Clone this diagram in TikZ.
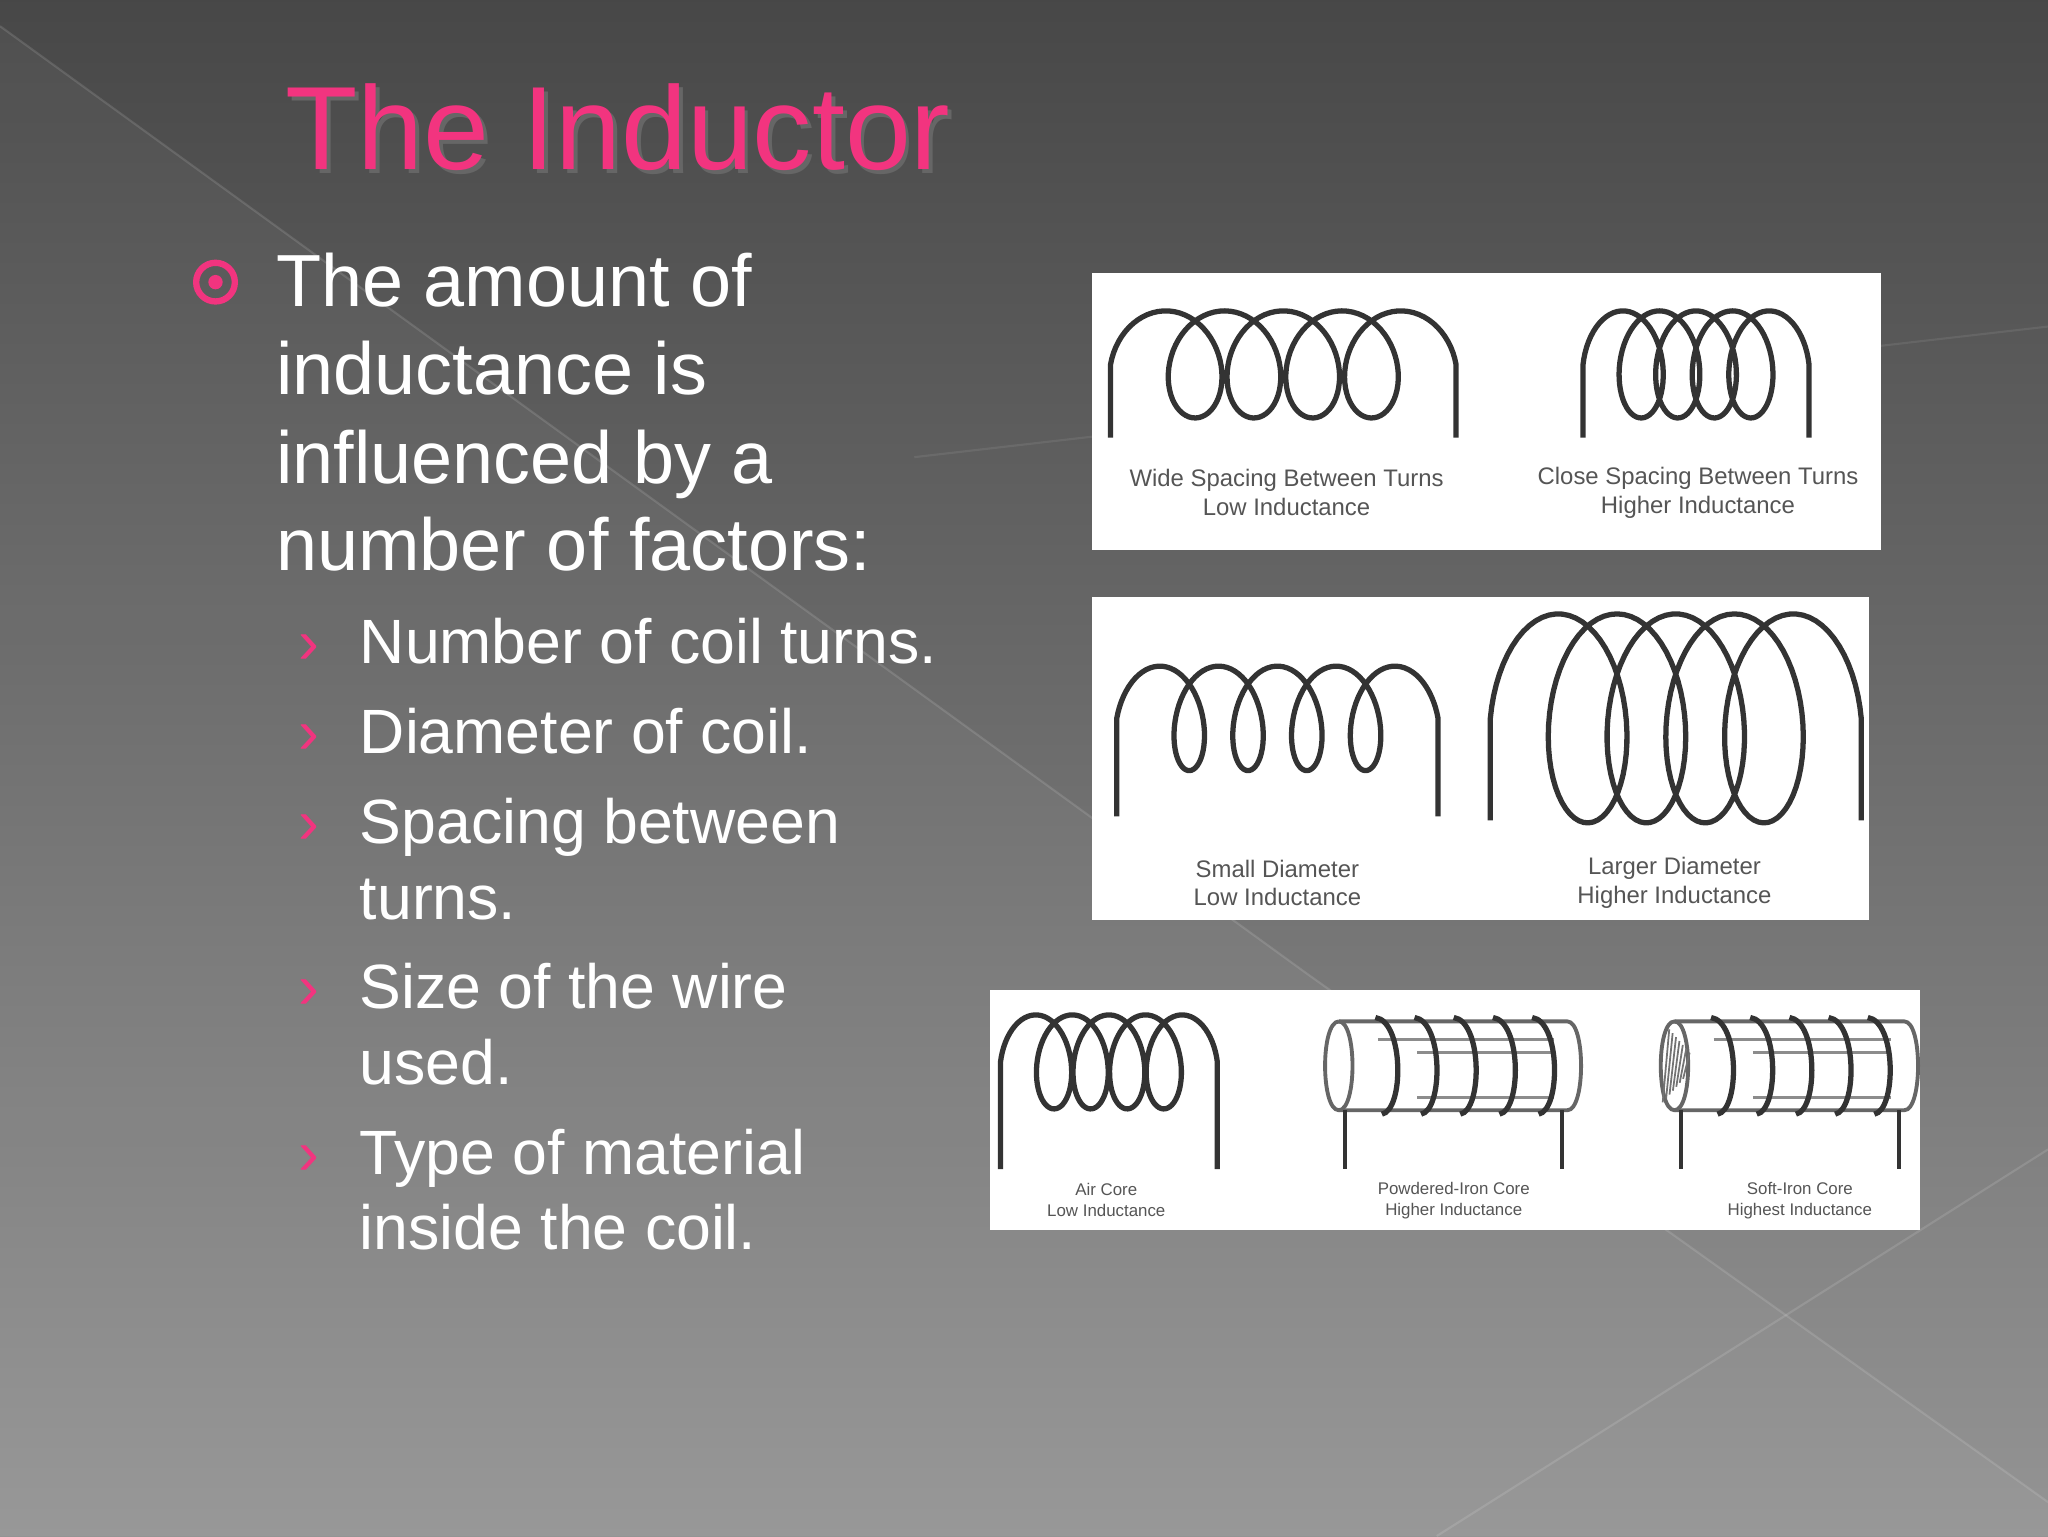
\documentclass[tikz,border=0pt]{standalone}
\usepackage{fontspec}
\setmainfont{Liberation Sans}
\definecolor{pinkc}{HTML}{F2347F}
\definecolor{labc}{HTML}{555555}
\tikzset{wire/.style={line width=1.5pt,black!80},
 lead/.style={line width=1.1pt,black!80},
 lab/.style={font=\fontsize{6.8}{8.2}\selectfont,text=labc,align=center},
 tlab/.style={font=\fontsize{4.8}{6}\selectfont,text=labc,align=center},
 mainT/.style={font=\fontsize{21}{25}\selectfont,text=white,anchor=base west,inner sep=0pt},
 subT/.style={font=\fontsize{17.8}{21}\selectfont,text=white,anchor=base west,inner sep=0pt},
 arr/.style={font=\fontsize{17.8}{21}\selectfont,text=pinkc,anchor=base west,inner sep=0pt}}
% x0 p rx yc ry n leadbottom
\newcommand{\mycoil}[7]{%
 \pgfmathsetmacro{\cxa}{#1-#2/4-#3}%
 \pgfmathsetmacro{\cxb}{#1+#2*#6+#2/4+#3}%
 \pgfmathsetmacro{\cte}{360*#6+90}%
 \draw[wire,line join=round] (\cxa,#7) -- (\cxa,#4) -- plot[domain=-90:\cte,samples=260,variable=\t] ({#1+#2*(\t/360)+#3*sin(\t)},{#4-#5*cos(\t)}) -- (\cxb,#7);}
% cored coil: xl xr ytop ybot hatch
\newcommand{\mycored}[5]{%
 \draw[lead,black!60,fill=white] (#1,#3) -- (#2,#3) .. controls (#2+14,#3) and (#2+14,#4) .. (#2,#4) -- (#1,#4) .. controls (#1-14,#4) and (#1-14,#3) .. (#1,#3);
 \draw[lead,black!60] (#1,#3) .. controls (#1+14,#3) and (#1+14,#4) .. (#1,#4);
 \ifnum#5=1 \foreach \k in {0,...,6}{\draw[black!55,line width=0.5pt] (#1-9+\k*2.6,#4-6-\k*3) -- (#1-4+\k*2.6,#3+6+\k*3);}\fi
 \draw[black!45,line width=0.8pt] (#1+30,#3+14) -- (#2-10,#3+14) (#1+60,#3+24) -- (#2-10,#3+24) (#1+60,#4-10)--(#2-10,#4-10);
 \foreach \k in {0,...,4}{\pgfmathsetmacro{\xk}{#1+28+\k*30}
   \draw[wire] (\xk,#3-3) .. controls (\xk+22,#3) and (\xk+22,#4) .. (\xk+5,#4+3);}
 \draw[lead] (#1+5,#4) -- (#1+5,895) (#2-4,#4) -- (#2-4,895);}
\begin{document}
\begin{tikzpicture}[x=0.1306mm,y=-0.1306mm]
\shade[top color=black!72,bottom color=black!42] (0,0) rectangle (1568,1176);
\useasboundingbox (0,0) rectangle (1568,1176);
\fill[white,opacity=0.04] (0,20) -- (1000,745) -- (1568,1150) -- (1568,1176) -- (0,1176) -- cycle;
\draw[white,opacity=0.12,line width=0.6pt] (0,20) -- (1000,745) -- (1568,1150);
\draw[white,opacity=0.12,line width=0.6pt] (1568,880) -- (1100,1176);
\draw[white,opacity=0.08,line width=0.6pt] (700,350) -- (1568,250);
% title
\node[font=\fontsize{33.7}{40}\selectfont,text=black!60,anchor=base west,inner sep=0pt] at (221,133) {The Inductor};
\node[font=\fontsize{33.7}{40}\selectfont,text=pinkc,anchor=base west,inner sep=0pt] (title) at (218,130) {The Inductor};
% bullets
\node[draw=pinkc,line width=1.8pt,circle,minimum size=11pt,inner sep=0pt] (bul) at (165,216) {};
\fill[pinkc] (bul.center) circle (5.5);
\node[mainT] (m1) at (211,235) {The amount of};
\node[mainT] (m2) at (211,302) {inductance is};
\node[mainT] (m3) at (211,370) {influenced by a};
\node[mainT] (m4) at (211,437) {number of factors:};
\foreach \yy in {508,577,646,772,899}{\node[arr] at (228,\yy) {›};}
\node[subT] (s1) at (275,508) {Number of coil turns.};
\node[subT] (s2) at (275,577) {Diameter of coil.};
\node[subT] (s3) at (275,646) {Spacing between};
\node[subT] (s3b) at (275,704) {turns.};
\node[subT] (s4) at (275,772) {Size of the wire};
\node[subT] (s4b) at (275,830) {used.};
\node[subT] (s5) at (275,899) {Type of material};
\node[subT] (s5b) at (275,957) {inside the coil.};
% boxes
\fill[white] (836,209) rectangle (1440,421);
\fill[white] (836,457) rectangle (1431,704);
\fill[white] (758,758) rectangle (1470,942);
% box1
\mycoil{892.5}{45}{31}{279}{41}{4}{335}
\mycoil{1242.5}{28}{23.5}{279}{41}{4}{335}
\node[lab] (l1) at (985,377) {Wide Spacing Between Turns\\Low Inductance};
\node[lab] (l2) at (1300,377) {Close Spacing Between Turns\\Higher Inductance};
% box2
\mycoil{888}{45}{21.75}{550}{40}{4}{625}
\mycoil{1193}{45}{40.75}{550}{80}{4}{628}
\node[lab] (l3) at (978,676) {Small Diameter\\Low Inductance};
\node[lab] (l4) at (1282,676) {Larger Diameter\\Higher Inductance};
% box3
\mycoil{793}{28}{20}{813}{36}{4}{895}
\mycored{1025}{1200}{782}{850}{0}
\mycored{1282}{1458}{782}{850}{1}
\node[tlab] (l5) at (847,919) {Air Core\\Low Inductance};
\node[tlab] (l6) at (1113,919) {Powdered-Iron Core\\Higher Inductance};
\node[tlab] (l7) at (1378,919) {Soft-Iron Core\\Highest Inductance};
\end{tikzpicture}
\end{document}
